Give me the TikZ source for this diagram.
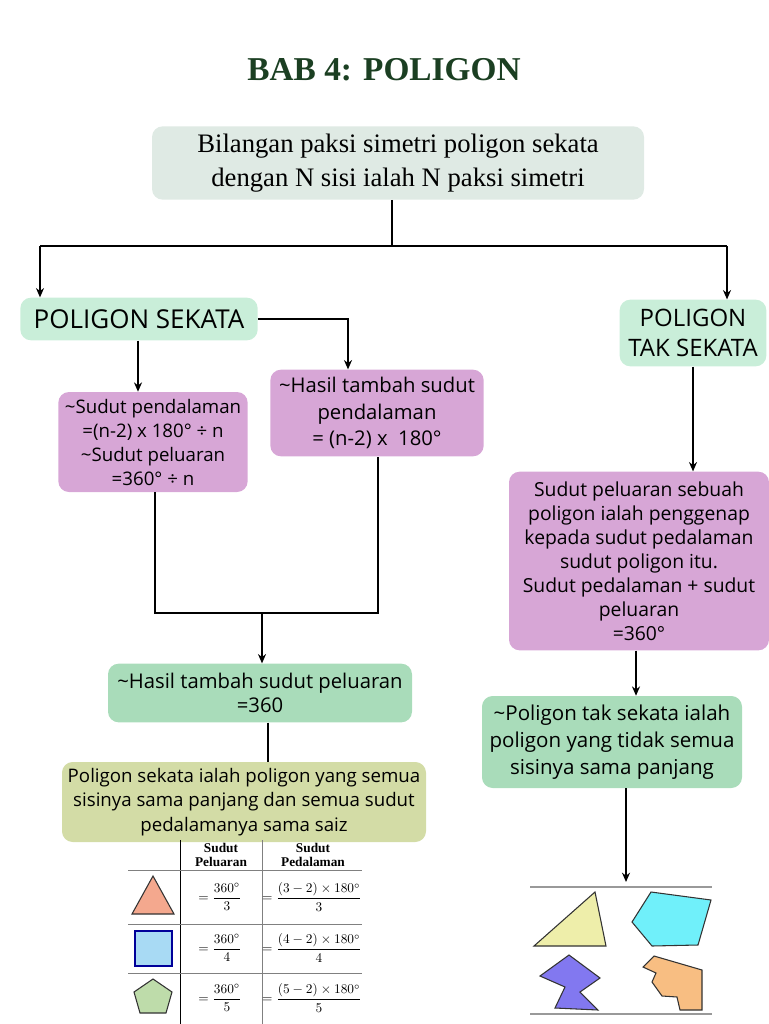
\documentclass[tikz,border=0pt]{standalone}
\usepackage{fontspec}
\setmainfont{Open Sans}
\newfontfamily\serif{Liberation Serif}
\usetikzlibrary{arrows.meta}
\definecolor{titlec}{HTML}{1B3F22}
\definecolor{topc}{HTML}{DFEAE4}
\definecolor{lgreen}{HTML}{C9EED9}
\definecolor{purp}{HTML}{D7A6D6}
\definecolor{mgreen}{HTML}{A9DCBA}
\definecolor{olive}{HTML}{D3DCA6}
\tikzset{
 box/.style={rounded corners=8pt, align=center, inner sep=0pt},
 conn/.style={line width=1.3pt},
 arr/.style={line width=1.3pt,-{Stealth[length=7pt,width=6pt]}},
 tl/.style={line width=0.6pt},
 sh/.style={draw=black!80, line width=0.8pt}
}
\begin{document}
\begin{tikzpicture}[x=0.75pt,y=-0.75pt]
\useasboundingbox (0,0) rectangle (768,1024);
\node (title) at (384,70) {\serif\bfseries\fontsize{25}{28}\selectfont\color{titlec}BAB 4: POLIGON};
\node[box, fill=topc, minimum width=369pt, minimum height=55pt, font=\serif\fontsize{20}{25}\selectfont] (top) at (398,163) {Bilangan paksi simetri poligon sekata\\dengan N sisi ialah N paksi simetri};
\node[box, fill=lgreen, minimum width=178pt, minimum height=32pt, font=\fontsize{19.5}{22}\selectfont] (ps) at (139,319) {POLIGON SEKATA};
\node[box, fill=lgreen, minimum width=110pt, minimum height=50pt, font=\fontsize{18}{22}\selectfont] (pts) at (693,333) {POLIGON\\TAK SEKATA};
\node[box, fill=purp, minimum width=142pt, minimum height=75pt, font=\fontsize{14}{18}\selectfont] (p1) at (153,442) {\textasciitilde Sudut pendalaman\\=(n-2) x 180\textdegree{} ÷ n\\\textasciitilde Sudut peluaran\\=360\textdegree{} ÷ n};
\node[box, fill=purp, minimum width=160pt, minimum height=65pt, font=\fontsize{15.2}{20}\selectfont] (p2) at (377,413) {\textasciitilde Hasil tambah sudut\\pendalaman\\= (n-2) x~ 180\textdegree};
\node[box, fill=purp, minimum width=195pt, minimum height=134pt, font=\fontsize{14.5}{18}\selectfont] (p3) at (639,561) {Sudut peluaran sebuah\\poligon ialah penggenap\\kepada sudut pedalaman\\sudut poligon itu.\\Sudut pedalaman + sudut\\peluaran\\=360\textdegree};
\node[box, fill=mgreen, minimum width=228pt, minimum height=44pt, font=\fontsize{15.2}{18}\selectfont] (g1) at (260,693) {\textasciitilde Hasil tambah sudut peluaran\\=360};
\node[box, fill=mgreen, minimum width=195pt, minimum height=69pt, font=\fontsize{15.4}{20}\selectfont] (g2) at (612,742) {\textasciitilde Poligon tak sekata ialah\\poligon yang tidak semua\\sisinya sama panjang};
\node[box, fill=olive, minimum width=273pt, minimum height=60pt, font=\fontsize{14}{18.5}\selectfont] (ol) at (244,802) {Poligon sekata ialah poligon yang semua\\sisinya sama panjang dan semua sudut\\pedalamanya sama saiz};
% connectors top
\coordinate (j) at (392,246);
\draw[conn] (top.south -| j) -- (j);
\draw[conn] (40,246) -- (727,246);
\draw[arr] (40,246) -- (ps.north -| 40,0);
\draw[arr] (727,246) -- (pts.north -| 727,0);
\draw[arr] (ps.east) -- (ps.east -| 348,0) -- (p2.north -| 348,0);
\draw[arr] (ps.south -| 138,0) -- (p1.north -| 138,0);
\coordinate (m) at (262,613);
\draw[conn] (p1.south -| 155,0) -- (155,613) -- (378,613) -- (p2.south -| 378,0);
\draw[arr] (m) -- (g1.north -| m);
\draw[conn] (g1.south -| 268,0) -- (ol.north -| 268,0);
\draw[arr] (pts.south -| 693,0) -- (p3.north -| 693,0);
\draw[arr] (p3.south -| 636,0) -- (g2.north -| 636,0);
\coordinate (sp) at (626,882);
\draw[arr] (g2.south -| 626,0) -- (sp);
% table
\draw[tl] (180,840) -- (180,1024);
\draw[tl,black!50] (262,840) -- (262,1024);
\draw[tl,black!50] (128,870) -- (362,870);
\draw[tl,black!50] (128,924) -- (362,924);
\draw[tl,black!50] (128,973) -- (362,973);
\node[font=\serif\bfseries\fontsize{10}{10.5}\selectfont,align=center] (h1) at (221,855) {Sudut\\Peluaran};
\node[font=\serif\bfseries\fontsize{10}{10.5}\selectfont,align=center] (h2) at (313,855) {Sudut\\Pedalaman};
\foreach \n/\y in {3/897,4/948,5/998}{
 \node[font=\fontsize{10}{11}\selectfont] at (220,\y) {$\displaystyle=\frac{360^\circ}{\n}$};
 \node[font=\fontsize{10}{11}\selectfont] at (312,\y) {$\displaystyle=\frac{(\n-2)\times180^\circ}{\n}$};
}
\filldraw[sh, fill={rgb,255:red,244;green,168;blue,142}] (132,914) -- (174,914) -- (153,876) -- cycle;
\filldraw[sh, draw=blue!60!black, fill={rgb,255:red,168;green,218;blue,244}] (135,931) rectangle (172,966);
\filldraw[sh, fill={rgb,255:red,190;green,220;blue,170}] (153,979) -- (172,992) -- (166,1013) -- (140,1013) -- (134,992) -- cycle;
% irregular shapes
\draw[line width=1pt, black!40] (530,887) -- (712,887);
\draw[line width=1pt, black!40] (530,1014) -- (712,1014);
\filldraw[sh, fill={rgb,255:red,238;green,238;blue,170}] (534,946) -- (595,892) -- (606,946) -- cycle;
\filldraw[sh, fill={rgb,255:red,112;green,240;blue,250}] (632,922) -- (651,892) -- (711,900) -- (698,945) -- (652,946) -- cycle;
\filldraw[sh, fill={rgb,255:red,130;green,120;blue,240}] (540,976) -- (569,955) -- (600,978) -- (580,992) -- (598,1010) -- (555,1008) -- (565,987) -- cycle;
\filldraw[sh, fill={rgb,255:red,248;green,190;blue,130}] (643,967) -- (654,956) -- (702,970) -- (702,1010) -- (680,1010) -- (677,997) -- (662,996) -- (652,982) -- (656,973) -- cycle;
\end{tikzpicture}
\end{document}
